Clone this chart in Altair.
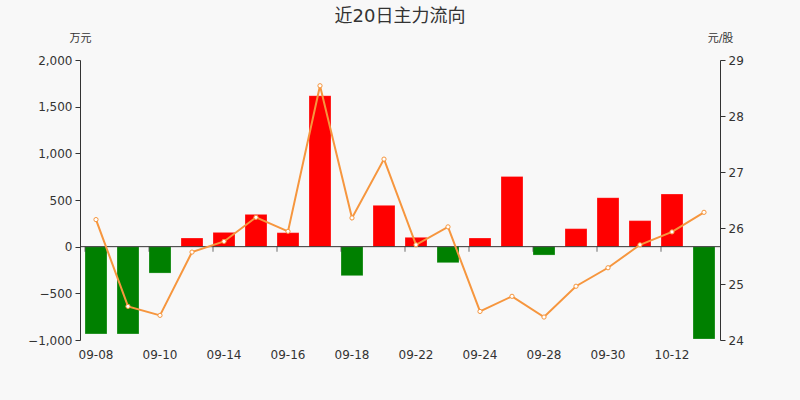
import altair as alt
import pandas as pd

dates = ["09-08", "09-09", "09-10", "09-11", "09-14", "09-15", "09-16", "09-17", "09-18", "09-21",
         "09-22", "09-23", "09-24", "09-25", "09-28", "09-29", "09-30", "10-09", "10-12", "10-13"]
flows = [-935, -935, -283, 93, 153, 346, 150, 1618, -311, 443,
         100, -172, 93, 753, -90, 193, 525, 279, 564, -990]
prices = [26.15, 24.60, 24.44, 25.57, 25.76, 26.19, 25.94, 28.54, 26.18, 27.23,
          25.70, 26.02, 24.51, 24.78, 24.41, 24.96, 25.29, 25.70, 25.93, 26.28]
label_dates = dates[::2]

df = pd.DataFrame({"date": dates, "flow": flows, "price": prices})
df["dir"] = ["in" if v >= 0 else "out" for v in flows]
df["labeled"] = [d in label_dates for d in dates]

FONT = "DejaVu Sans, Noto Sans CJK SC, sans-serif"
TXT = "#333333"
ORANGE = "#F6963E"

xscale = alt.Scale(domain=dates, paddingInner=0.3125, paddingOuter=0.15625)
xaxis = alt.Axis(title=None, values=label_dates, labelAngle=0, domain=False,
                 ticks=False, tickSize=0, labelPadding=9, labelFontSize=12,
                 labelColor=TXT, labelFont=FONT, grid=False)

lscale = alt.Scale(domain=[-1000, 2000], nice=False)
laxis = alt.Axis(title="万元", values=[-1000, -500, 0, 500, 1000, 1500, 2000],
                 format=",d", orient="left", grid=False, domainColor=TXT,
                 tickColor=TXT, tickSize=5, labelPadding=3, labelFontSize=12,
                 labelColor=TXT, labelFont=FONT, titleAngle=0, titleX=0,
                 titleY=-22, titleAlign="center", titleBaseline="middle",
                 titleFontSize=11, titleFontWeight="normal", titleColor=TXT,
                 titleFont=FONT)

rscale = alt.Scale(domain=[24, 29], nice=False, zero=False)
raxis = alt.Axis(title="元/股", values=[24, 25, 26, 27, 28, 29], orient="right",
                 grid=False, domainColor=TXT, tickColor=TXT, tickSize=5,
                 labelPadding=3, labelFontSize=12, labelColor=TXT, labelFont=FONT,
                 titleAngle=0, titleX=0, titleY=-22, titleAlign="center",
                 titleBaseline="middle", titleFontSize=11, titleFontWeight="normal",
                 titleColor=TXT, titleFont=FONT)

base = alt.Chart(df)

bars = base.mark_bar(strokeWidth=1, strokeOpacity=0.25).encode(
    x=alt.X("date:N", sort=dates, scale=xscale, axis=xaxis),
    y=alt.Y("flow:Q", scale=lscale, axis=laxis),
    color=alt.Color("dir:N", scale=alt.Scale(domain=["in", "out"], range=["#FF0000", "#008000"]),
                    legend=None),
    stroke=alt.value("#ffffff"),
)

zero = base.transform_filter("datum.date == '09-08'").mark_rule(color=TXT, strokeWidth=1).encode(
    y=alt.Y(datum=0, scale=lscale, axis=laxis),
)

ticks = base.transform_filter("datum.labeled").mark_tick(
    orient="vertical", size=5, yOffset=2.5, color=TXT, thickness=1
).encode(
    x=alt.X("date:N", sort=dates, scale=xscale, axis=xaxis, bandPosition=0),
    y=alt.Y(datum=0, scale=lscale, axis=laxis),
)

left = alt.layer(bars, zero, ticks)

line = base.mark_line(color=ORANGE, strokeWidth=2).encode(
    x=alt.X("date:N", sort=dates, scale=xscale, axis=xaxis),
    y=alt.Y("price:Q", scale=rscale, axis=raxis),
)
pts = base.mark_point(shape="circle", filled=True, fill="white", stroke=ORANGE,
                      strokeWidth=1, size=18, opacity=1).encode(
    x=alt.X("date:N", sort=dates, scale=xscale, axis=xaxis),
    y=alt.Y("price:Q", scale=rscale, axis=raxis),
)
right = alt.layer(line, pts)

chart = alt.layer(left, right).resolve_scale(y="independent").properties(
    width=640, height=280,
    background="#F8F8F8",
    padding={"left": 80, "top": 60, "right": 80, "bottom": 60},
    autosize=alt.AutoSizeParams(type="none"),
    title=alt.TitleParams("近20日主力流向", fontSize=18, font=FONT, color=TXT,
                          fontWeight="normal", anchor="middle", offset=6),
).configure_view(stroke=None)

chart.save("out.html", embed_options={"renderer": "svg", "actions": False})
